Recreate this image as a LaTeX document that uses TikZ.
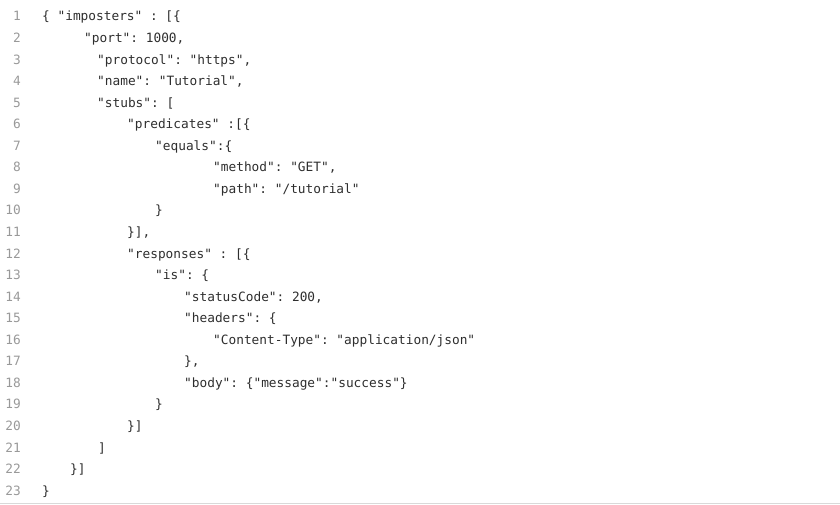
\documentclass[tikz,border=0pt]{standalone}
\usepackage{fontspec}
\setmonofont{DejaVu Sans Mono}
\begin{document}
\begin{tikzpicture}[x=1pt,y=-1pt,
  code/.style={anchor=base west,inner sep=0pt,font=\fontsize{12.8}{14}\ttfamily,text=black!82},
  num/.style={anchor=base east,inner sep=0pt,font=\fontsize{12.8}{14}\ttfamily,text=black!40}]
\useasboundingbox (0,0) rectangle (840,505);
\draw[black!15,line width=1.5] (0,503.5) -- (840,503.5);
\foreach \i/\x/\t in {
1/42/{\{ "imposters" : [\{},
2/84/{"port": 1000,},
3/97/{"protocol": "https",},
4/97/{"name": "Tutorial",},
5/97/{"stubs": [},
6/127/{"predicates" :[\{},
7/155/{"equals":\{},
8/213/{"method": "GET",},
9/213/{"path": "/tutorial"},
10/155/{\}},
11/127/{\}],},
12/127/{"responses" : [\{},
13/155/{"is": \{},
14/184/{"statusCode": 200,},
15/184/{"headers": \{},
16/213/{"Content-Type": "application/json"},
17/184/{\},},
18/184/{"body": \{"message":"success"\}},
19/155/{\}},
20/127/{\}]},
21/98/{]},
22/70/{\}]},
23/42/{\}}}{
  \node[num] (n\i) at (21,{21+(\i-1)*21.55}) {\i};
  \node[code] (c\i) at (\x,{21+(\i-1)*21.55}) {\t};
}
\end{tikzpicture}
\end{document}
